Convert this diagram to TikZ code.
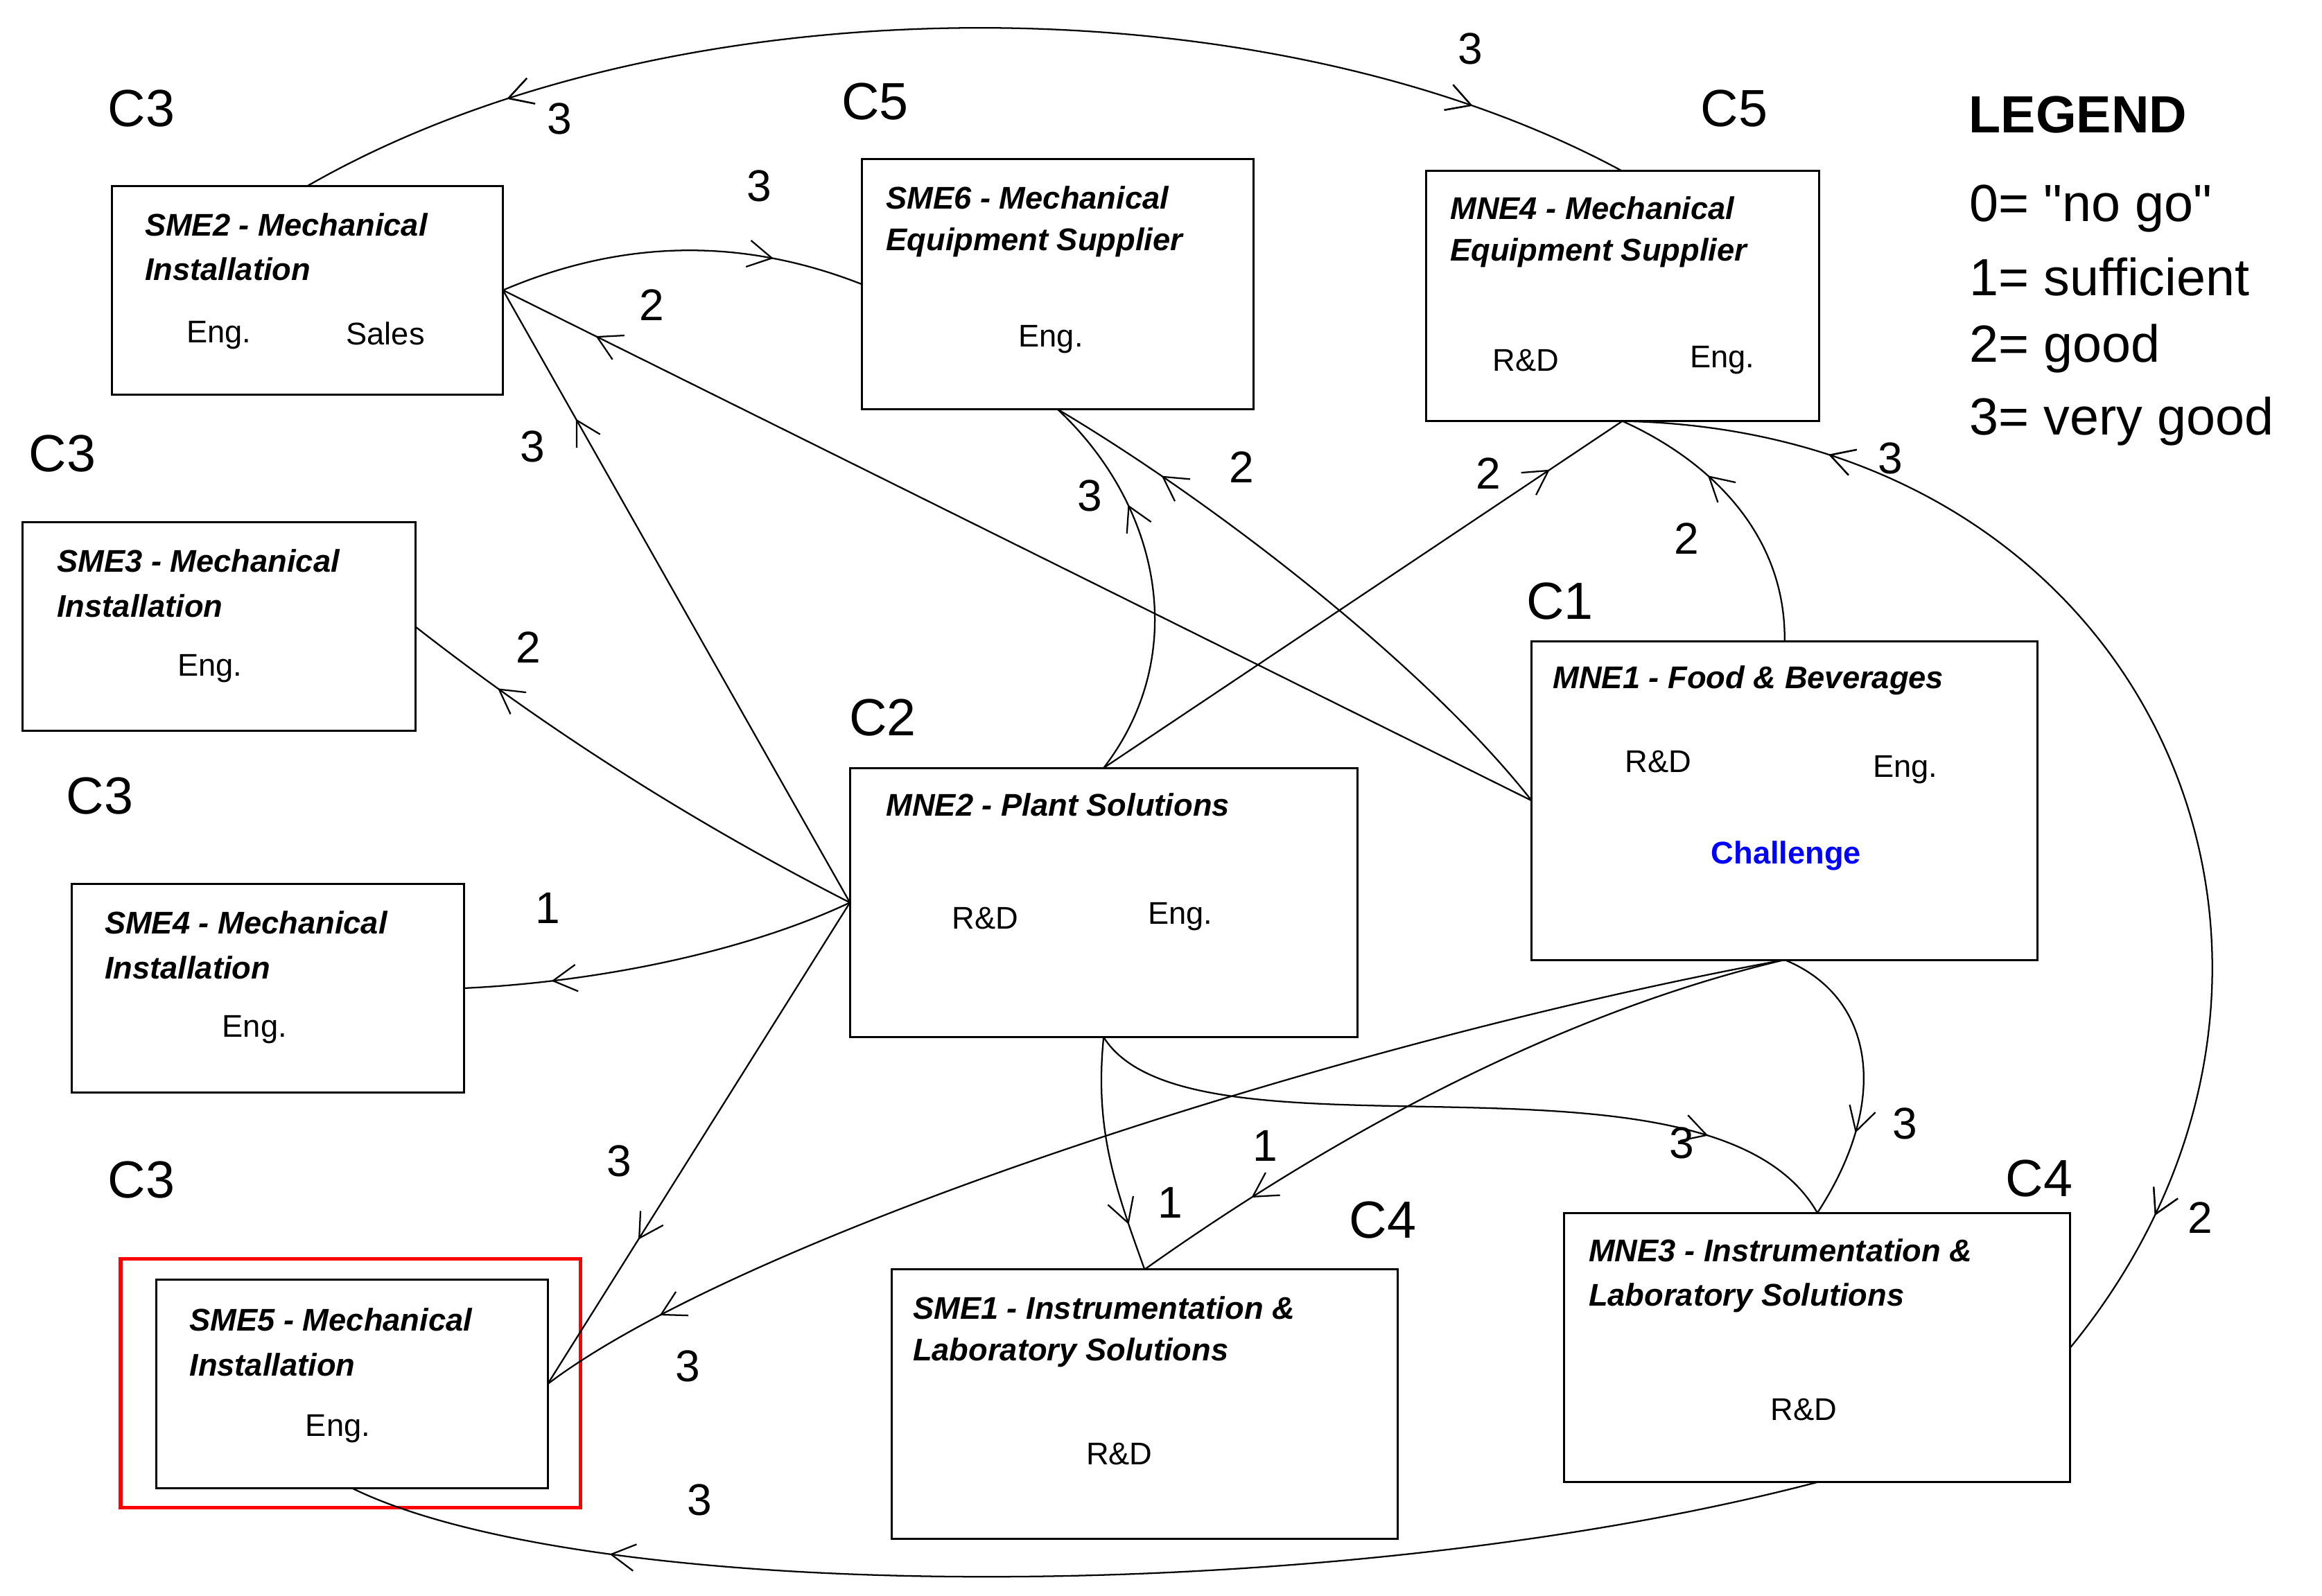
\documentclass[tikz,border=0pt]{standalone}
\usepackage{fontspec}
\setmainfont{Liberation Sans}
\usetikzlibrary{arrows.meta,decorations.markings}
\begin{document}
\begin{tikzpicture}[x=0.02cm,y=-0.02cm,
  box/.style={draw,line width=0.8pt,anchor=north west,inner sep=0,outer sep=0},
  ttl/.style={anchor=west,inner sep=0,font=\fontsize{12}{14}\selectfont\bfseries\itshape},
  txt/.style={inner sep=0,font=\fontsize{12}{14}\selectfont},
  cl/.style={inner sep=0,font=\fontsize{20}{24}\selectfont},
  num/.style={inner sep=0,font=\fontsize{17}{20}\selectfont},
  lg/.style={anchor=west,inner sep=0,font=\fontsize{20}{24}\selectfont},
  edge/.style={line width=0.6pt},
  fw/.style={postaction={decorate},decoration={markings,mark=at position #1 with {\arrow{Straight Barb[length=3.2mm,width=3.6mm,line width=0.6pt]}}}},
  bw/.style={postaction={decorate},decoration={markings,mark=at position #1 with {\arrowreversed{Straight Barb[length=3.2mm,width=3.6mm,line width=0.6pt]}}}}]
\useasboundingbox (0,0) rectangle (1560,1072);
% boxes
\node[box,minimum width=5.26cm,minimum height=2.8cm] (sme2) at (75,125) {};
\node[box,minimum width=5.26cm,minimum height=3.36cm] (sme6) at (579,107) {};
\node[box,minimum width=5.28cm,minimum height=3.36cm] (mne4) at (958,115) {};
\node[box,minimum width=5.28cm,minimum height=2.8cm] (sme3) at (15,351) {};
\node[box,minimum width=5.28cm,minimum height=2.8cm] (sme4) at (48,594) {};
\node[box,minimum width=6.82cm,minimum height=3.62cm] (mne2) at (571,516) {};
\node[box,minimum width=6.8cm,minimum height=4.28cm] (mne1) at (1029,431) {};
\node[box,minimum width=5.26cm,minimum height=2.8cm] (sme5) at (105,860) {};
\node[box,minimum width=6.8cm,minimum height=3.62cm] (sme1) at (599,853) {};
\node[box,minimum width=6.8cm,minimum height=3.62cm] (mne3) at (1051,815) {};
\node[box,draw=red,line width=1.4pt,minimum width=6.18cm,minimum height=3.34cm] (red) at (81,846) {};
% texts
\node[ttl] (t1) at (97,151) {SME2 - Mechanical};
\node[ttl] (t2) at (97,181) {Installation};
\node[txt] (t3) at (147,225) {Eng.};
\node[txt] (t4) at (259,224) {Sales};
\node[ttl] (t5) at (595,133) {SME6 - Mechanical};
\node[ttl] (t6) at (595,163) {Equipment Supplier};
\node[txt] (t7) at (706,228) {Eng.};
\node[ttl] (t8) at (974,140) {MNE4 - Mechanical};
\node[ttl] (t9) at (974,170) {Equipment Supplier};
\node[txt] (t10) at (1025,242) {R\&D};
\node[txt] (t11) at (1157,242) {Eng.};
\node[ttl] (t12) at (38,377) {SME3 - Mechanical};
\node[ttl] (t13) at (38,407) {Installation};
\node[txt] (t14) at (141,449) {Eng.};
\node[ttl] (t15) at (70,620) {SME4 - Mechanical};
\node[ttl] (t16) at (70,650) {Installation};
\node[txt] (t17) at (171,692) {Eng.};
\node[ttl] (t18) at (595,541) {MNE2 - Plant Solutions};
\node[txt] (t19) at (662,617) {R\&D};
\node[txt] (t20) at (793,616) {Eng.};
\node[ttl] (t21) at (1043,457) {MNE1 - Food \& Beverages};
\node[txt] (t22) at (1114,512) {R\&D};
\node[txt] (t23) at (1280,517) {Eng.};
\node[txt,text=blue,font=\fontsize{12}{14}\selectfont\bfseries] (t24) at (1200,575) {Challenge};
\node[ttl] (t25) at (127,887) {SME5 - Mechanical};
\node[ttl] (t26) at (127,917) {Installation};
\node[txt] (t27) at (227,960) {Eng.};
\node[ttl] (t28) at (613,879) {SME1 -  Instrumentation \&};
\node[ttl] (t29) at (613,909) {Laboratory Solutions};
\node[txt] (t30) at (752,977) {R\&D};
\node[ttl] (t31) at (1067,840) {MNE3 - Instrumentation \&};
\node[ttl] (t32) at (1067,872) {Laboratory Solutions};
\node[txt] (t33) at (1212,947) {R\&D};
% C labels
\node[cl] (c1) at (95,73) {C3};
\node[cl] (c2) at (588,68) {C5};
\node[cl] (c3) at (1165,73) {C5};
\node[cl] (c4) at (42,305) {C3};
\node[cl] (c5) at (67,535) {C3};
\node[cl] (c6) at (593,482) {C2};
\node[cl] (c7) at (1048,404) {C1};
\node[cl] (c8) at (95,793) {C3};
\node[cl] (c9) at (929,820) {C4};
\node[cl] (c10) at (1370,792) {C4};
% legend
\node[inner sep=0,font=\fontsize{20}{24}\selectfont\bfseries] (lgd) at (1396,77) {LEGEND};
\node[lg] (l0) at (1323,140) {0= \textquotedbl no go\textquotedbl};
\node[lg] (l1) at (1323,186) {1= sufficient};
\node[lg] (l2) at (1323,234) {2= good};
\node[lg] (l3) at (1323,283) {3= very good};
% edges
\draw[edge,bw=0.16,fw=0.88] (sme2.north) .. controls (450,-15) and (850,-15) .. (mne4.north);
\node[num] (n1) at (376,80) {3};
\node[num] (n2) at (988,33) {3};
\draw[edge,fw=0.75] (sme2.east) .. controls (420,160) and (500,160) .. (sme6.west);
\node[num] (n3) at (510,125) {3};
\draw[edge,fw=0.91] (mne1.west) -- (sme2.east);
\node[num] (n4) at (438,205) {2};
\draw[edge,fw=0.79] (mne2.west) -- (sme2.east);
\node[num] (n5) at (358,300) {3};
\draw[edge,fw=0.8] (mne2.west) .. controls (480,560) and (380,500) .. (sme3.east);
\node[num] (n6) at (355,435) {2};
\draw[edge,fw=0.78] (mne2.west) .. controls (500,640) and (400,660) .. (sme4.east);
\node[num] (n7) at (368,610) {1};
\draw[edge,fw=0.7] (mne2.west) -- (sme5.east);
\node[num] (n8) at (416,780) {3};
\draw[edge,fw=0.7] (mne2.north) .. controls (800,440) and (780,340) .. (sme6.south);
\node[num] (n9) at (732,333) {3};
\draw[edge,fw=0.8] (mne1.west) .. controls (960,450) and (820,340) .. (sme6.south);
\node[num] (n10) at (834,314) {2};
\draw[edge,fw=0.86] (mne2.north) -- (mne4.south);
\node[num] (n11) at (1000,318) {2};
\draw[edge,fw=0.65] (mne1.north) .. controls (1200,360) and (1150,310) .. (mne4.south);
\node[num] (n12) at (1133,362) {2};
\draw[edge,bw=0.16,fw=0.88] (mne4.south) .. controls (1450,290) and (1600,650) .. (mne3.east);
\node[num] (n13) at (1270,308) {3};
\node[num] (n14) at (1478,818) {2};
\draw[edge,fw=0.9] (mne1.south) .. controls (900,700) and (500,830) .. (sme5.east);
\node[num] (n15) at (462,918) {3};
\draw[edge,fw=0.82] (mne1.south) .. controls (1050,680) and (900,760) .. (sme1.north);
\node[num] (n16) at (850,770) {1};
\draw[edge,fw=0.7] (mne1.south) .. controls (1260,670) and (1270,740) .. (mne3.north);
\node[num] (n17) at (1280,755) {3};
\draw[edge,fw=0.8] (mne2.south) .. controls (735,760) and (750,800) .. (sme1.north);
\node[num] (n18) at (786,808) {1};
\draw[edge,fw=0.82] (mne2.south) .. controls (800,790) and (1150,690) .. (mne3.north);
\node[num] (n19) at (1130,768) {3};
\draw[edge,fw=0.82] (mne3.south) .. controls (900,1080) and (400,1080) .. (sme5.south);
\node[num] (n20) at (470,1008) {3};
\end{tikzpicture}
\end{document}
